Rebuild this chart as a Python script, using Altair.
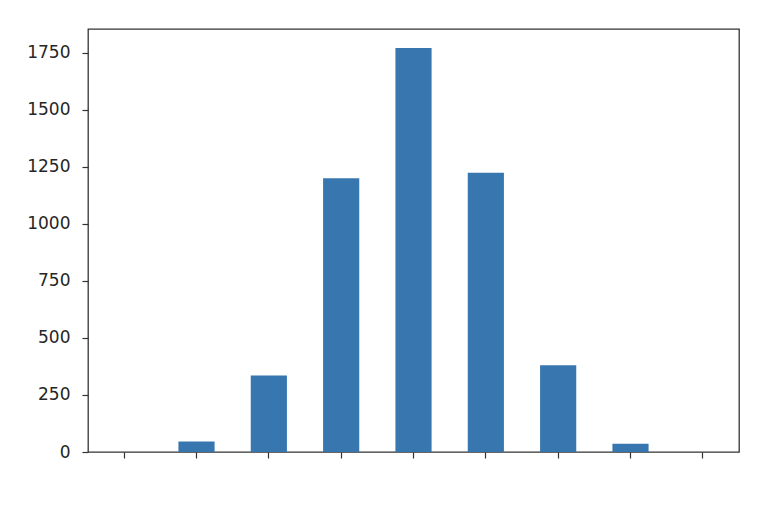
import altair as alt
import pandas as pd

categories = ["0", "1", "2", "3", "4", "5", "6", "7", "8"]
counts = [0, 46, 336, 1200, 1772, 1225, 380, 36, 0]
y_ticks = [0, 250, 500, 750, 1000, 1250, 1500, 1750]

df = pd.DataFrame({"category": categories, "count": counts})

chart = (
    alt.Chart(df)
    .mark_bar(color="#3776ae")
    .encode(
        x=alt.X(
            "category:N",
            sort=categories,
            scale=alt.Scale(paddingInner=0.5, paddingOuter=0.25),
            axis=alt.Axis(
                title=None,
                labels=False,
                ticks=True,
                tickSize=6,
                tickColor="#333333",
                tickWidth=1.2,
                domain=False,
                grid=False,
            ),
        ),
        y=alt.Y(
            "count:Q",
            scale=alt.Scale(domain=[0, 1855], nice=False),
            axis=alt.Axis(
                title=None,
                values=y_ticks,
                format="d",
                tickSize=6,
                tickColor="#333333",
                tickWidth=1.2,
                labelPadding=12,
                labelFont="DejaVu Sans",
                labelFontSize=17,
                labelColor="#262626",
                domain=False,
                grid=False,
            ),
        ),
    )
    .properties(
        width=651,
        height=423,
        autosize=alt.AutoSizeParams(type="none"),
        padding={"left": 80, "top": 21, "right": 21, "bottom": 40},
    )
    .configure_view(stroke="#333333", strokeWidth=1.3)
)

chart.save("out.html", embed_options={"renderer": "svg", "actions": False})
